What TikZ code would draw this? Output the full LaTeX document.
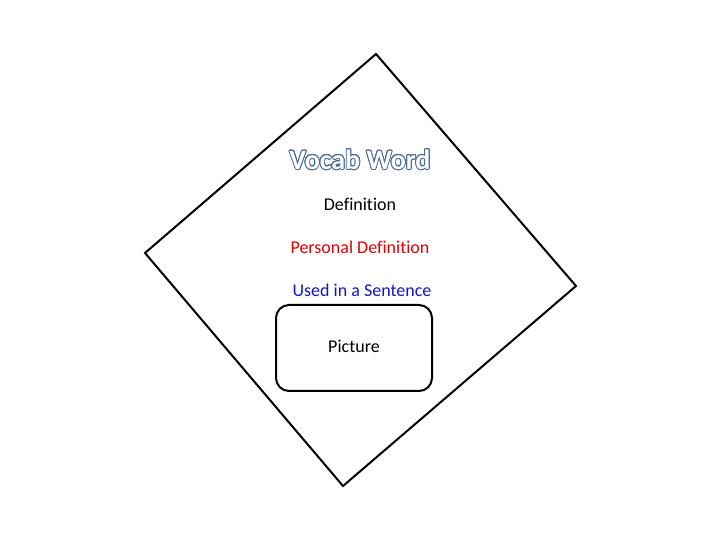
\documentclass[tikz,border=0pt]{standalone}
\usepackage{fontspec}
\setmainfont[Ligatures={NoCommon}]{Carlito}
\usepackage[copies]{contour}
\contournumber{16}
\contourlength{0.9pt}
\usetikzlibrary{shapes.geometric}
\definecolor{titleblue}{RGB}{75,105,155}
\definecolor{redtxt}{RGB}{230,0,0}
\definecolor{bluetxt}{RGB}{20,20,200}
\tikzset{
  label/.style={font=\fontsize{18}{21}\selectfont, inner sep=0pt},
  frame/.style={draw=black, line width=2pt},
}
\begin{document}
\begin{tikzpicture}[x=1pt,y=1pt]
\useasboundingbox (0,0) rectangle (720,540);
\fill[white] (0,0) rectangle (720,540);
\coordinate (T) at (376,486);
\coordinate (R) at (576,254);
\coordinate (B) at (343,54);
\coordinate (L) at (145,287);
\draw[frame, line join=miter] (T) -- (R) -- (B) -- (L) -- cycle;
\node[frame, rounded corners=13pt, minimum width=156pt, minimum height=86pt, inner sep=0pt] (pic) at (354,192) {};
\node[label] (pictxt) at ([yshift=2pt]pic.center) {Picture};
\node[inner sep=0pt, font=\fontsize{28}{31}\selectfont\bfseries] (title) at (360,380) {\contour{titleblue}{\textcolor{white}{Vocab Word}}};
\node[label] (def) at (360,336) {Definition};
\node[label, text=redtxt] (pdef) at (360,293) {Personal Definition};
\node[label, text=bluetxt] (sent) at (362,250) {Used in a Sentence};
\end{tikzpicture}
\end{document}
